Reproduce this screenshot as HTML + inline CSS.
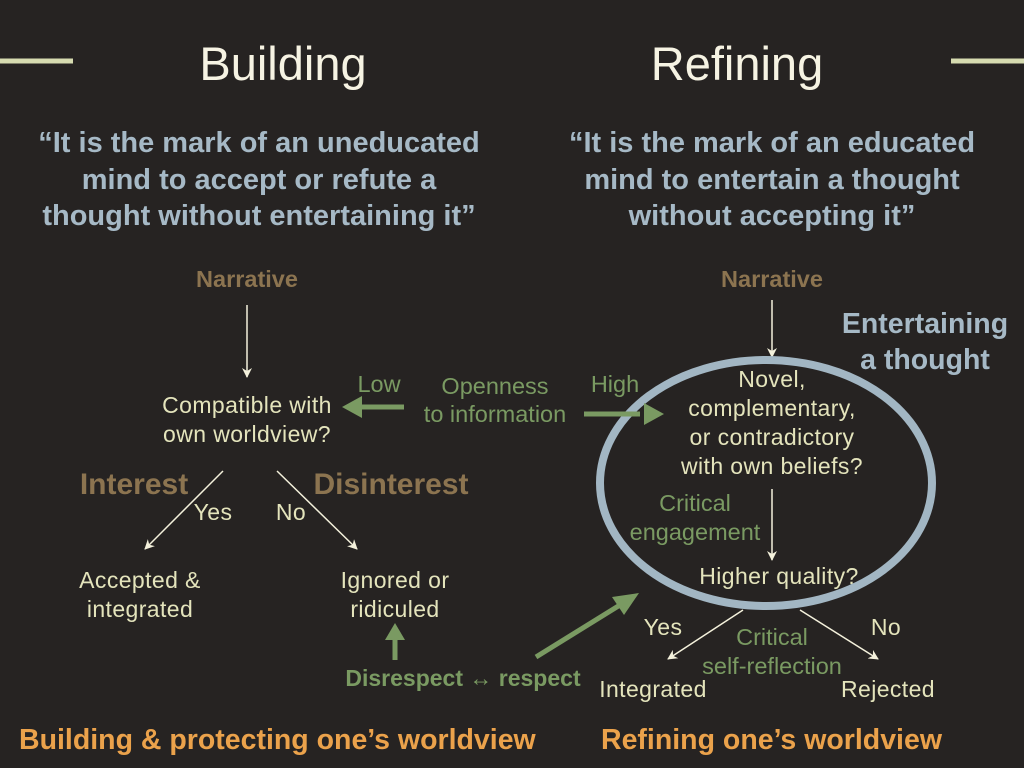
<!DOCTYPE html>
<html><head><meta charset="utf-8"><style>
html,body{margin:0;padding:0;background:#262322;}
svg{display:block;font-family:"Liberation Sans",Arial,sans-serif;}
</style></head><body>
<svg width="1024" height="768" viewBox="0 0 1024 768" xmlns="http://www.w3.org/2000/svg">
<defs>
<marker id="wa" viewBox="0 0 10 10" refX="9" refY="5" markerWidth="10" markerHeight="10" orient="auto" markerUnits="userSpaceOnUse"><path d="M0,0 L10,5 L0,10 L3,5 z" fill="#f4f1dc"/></marker>
</defs>
<rect width="1024" height="768" fill="#262322"/>
<rect x="0" y="58.5" width="73" height="5" fill="#d6dbb0"/>
<rect x="951" y="58.5" width="73" height="5" fill="#d6dbb0"/>
<g fill="#f6f3e3" font-size="47" text-anchor="middle">
<text x="283" y="80">Building</text>
<text x="737" y="80">Refining</text>
</g>
<g fill="#a6b9c6" font-size="29" font-weight="bold" text-anchor="middle">
<text x="259" y="152">“It is the mark of an uneducated</text>
<text x="259" y="189">mind to accept or refute a</text>
<text x="259" y="225">thought without entertaining it”</text>
<text x="772" y="152">“It is the mark of an educated</text>
<text x="772" y="189">mind to entertain a thought</text>
<text x="772" y="225">without accepting it”</text>
</g>
<g fill="#8c7450" font-weight="bold" text-anchor="middle">
<text x="247" y="287" font-size="23.5">Narrative</text>
<text x="772" y="287" font-size="23.5">Narrative</text>
<text x="134" y="494" font-size="30">Interest</text>
<text x="391" y="494" font-size="30">Disinterest</text>
</g>
<g fill="#a6b9c6" font-weight="bold" font-size="28.5" text-anchor="middle">
<text x="925" y="333">Entertaining</text>
<text x="925" y="369">a thought</text>
</g>
<g stroke="#f4f1dc" stroke-width="1.5" fill="none">
<line x1="247" y1="305" x2="247" y2="377" marker-end="url(#wa)"/>
<line x1="223" y1="471" x2="145" y2="549" marker-end="url(#wa)"/>
<line x1="277" y1="471" x2="357" y2="549" marker-end="url(#wa)"/>
<line x1="772" y1="300" x2="772" y2="357" marker-end="url(#wa)"/>
<line x1="772" y1="489" x2="772" y2="560" marker-end="url(#wa)"/>
<line x1="743" y1="610" x2="668" y2="659" marker-end="url(#wa)"/>
<line x1="800" y1="610" x2="878" y2="659" marker-end="url(#wa)"/>
</g>
<ellipse cx="766" cy="483" rx="166" ry="123" fill="none" stroke="#a2b6c3" stroke-width="8"/>
<g fill="#e4e4bc" font-size="23" letter-spacing="0.4" text-anchor="middle">
<text x="247" y="413">Compatible with</text>
<text x="247" y="442">own worldview?</text>
<text x="140" y="588">Accepted &amp;</text>
<text x="140" y="617">integrated</text>
<text x="395" y="588">Ignored or</text>
<text x="395" y="617">ridiculed</text>
<text x="213" y="520">Yes</text>
<text x="291" y="520">No</text>
<text x="772" y="387">Novel,</text>
<text x="772" y="416">complementary,</text>
<text x="772" y="445">or contradictory</text>
<text x="772" y="474">with own beliefs?</text>
<text x="779" y="584">Higher quality?</text>
<text x="663" y="635">Yes</text>
<text x="886" y="635">No</text>
<text x="653" y="697">Integrated</text>
<text x="888" y="697">Rejected</text>
</g>
<g fill="#7a9a62" font-size="23.5" text-anchor="middle">
<text x="379" y="392">Low</text>
<text x="495" y="394">Openness</text>
<text x="495" y="422">to information</text>
<text x="615" y="392">High</text>
<text x="695" y="511">Critical</text>
<text x="695" y="540">engagement</text>
<text x="772" y="645">Critical</text>
<text x="772" y="674">self-reflection</text>
</g>
<text x="463" y="686" fill="#7a9a62" font-size="23" font-weight="bold" text-anchor="middle">Disrespect ↔ respect</text>
<g stroke="#7a9a62" stroke-width="5" fill="none">
<line x1="404" y1="407" x2="360" y2="407"/>
<line x1="584" y1="414" x2="640" y2="414"/>
<line x1="395" y1="660" x2="395" y2="637"/>
<line x1="536" y1="657" x2="620" y2="605"/>
</g>
<g fill="#7a9a62">
<polygon points="342,407 362,396 362,418"/>
<polygon points="664,414 644,403 644,425"/>
<polygon points="395,623 385,640 405,640"/>
<polygon points="639,593 612,597 624,615"/>
</g>
<g fill="#eba24b" font-size="28.5" font-weight="bold">
<text x="19" y="749">Building &amp; protecting one’s worldview</text>
<text x="601" y="749">Refining one’s worldview</text>
</g>
</svg>
</body></html>
